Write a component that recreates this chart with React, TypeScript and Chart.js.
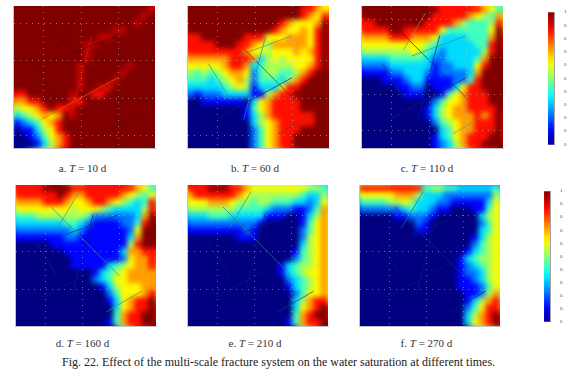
import React, { useEffect, useRef } from "react";
import { Chart, registerables } from "chart.js";

Chart.register(...registerables);

const panelA = [
  "9999999999999999999a","999999999999999999a9","99999999999999999a99","99999999999999aa9999",
  "999999999999aa999999","9999999999aa99999999","9999999999a999999999","9999999999a999999999",
  "999999999a999999a999","999999999a99999a9999","999999999a9999a99999","999999999a99a8999999",
  "88999999a99889999999","77889999889999999999","56678988a99999999999","34567679a99999999999",
  "12346789999999999999","01135689999999999999","00124678999999999999","00013578999999999999",
];
const panelB = [
  "99999999999999998876","99999999999999998768","99999999999998766679","99999999999987667689",
  "88999999888666777689","88889998876577777689","88888888766566676789","77777788873565666689",
  "66666788734555566789","54545677624554457899","44434567524443578999","33333456513336889999",
  "21222333311578899999","00111111036788889999","00000000146788889999","00000000135788888899",
  "00000000035678888899","00000000024678889999","00000000024678899999","00000000024678899999",
];
const panelC = [
  "99999999999888888764","99999999998888876547","88999999988887544458","88889988888644444469",
  "77778887776333344479","66666666654333334489","55555556543233333589","33334444432233334799",
  "22223333331223336899","11112233321222237999","00011123311112248999","00000112201113688999",
  "00000011100146788899","00000000002466788899","00000000013567788889","00000000013567778789",
  "00000000002456778889","00000000000346778889","00000000001346788899","00000000001235788999",
];
const panelD = [
  "88889999888888888764","88888898778888876546","77778887667887654348","66666666566654333358",
  "44455555554222222379","33333334432111122489","22222222321111112699","11111112211111113799",
  "00000111111111115899","00000001111111137788","00000000111111126778","00000000111113456778",
  "00000000000134567777","00000000000234667777","00000000000013566677","00000000000002466678",
  "00000000000001367889","00000000000000367889","00000000000000478899","00000000000001478899",
];
const panelE = [
  "88899988766666666554","78888887655555554335","66677765545544433236","55555554444322211247",
  "33344433333111001357","22222222221000001467","11111111210000002467","00000001110000002567",
  "00000000000000003567","00000000000000014567","00000000000000024567","00000000000001345567",
  "00000000000001345667","00000000000000234567","00000000000000134567","00000000000000024667",
  "00000000000000035788","00000000000000036789","00000000000000047899","00000000000000147889",
];
const panelF = [
  "88888888845544333334","66666777533322222225","44445565333221111136","22222234332110001146",
  "00000112221000000356","00000000210000000246","00000000110000000346","00000000000000001356",
  "00000000000000002456","00000000000000013456","00000000000000134556","00000000000000123456",
  "00000000000000122356","00000000000000112356","00000000000000111246","00000000000000011257",
  "00000000000000013578","00000000000000024688","00000000000000035789","00000000000000036789",
];
// saturation that each letter of a grid row stands for
const levelKeys = "0123456789a";
const levelValues = [0, 0.13, 0.24, 0.34, 0.44, 0.54, 0.63, 0.72, 0.86, 1, 0.93];

// fracture endpoints, as fractions of the panel (x, y from top)
const fractures = [
  [[0.453, 0.05], [0.3, 0.307]],
  [[0.255, 0.156], [0.74, 0.644]],
  [[0.355, 0.353], [0.74, 0.21]],
  [[0.554, 0.21], [0.4, 0.8]],
  [[0.15, 0.405], [0.3, 0.65]],
  [[0.208, 0.795], [0.74, 0.505]],
  [[0.647, 0.9], [0.897, 0.753]],
];
const fractureColorsA = ["#4a0808", "#4a0808", "#4a0808", "#c02000", "#4a0808", "#e85a10", "#4a0808"];
const fractureColorsB = ["#6a1a10", "#2a3a40", "#5a9070", "#1c86d8", "#2f8f90", "#0a1a90", "#6a3a20"];
const fractureColorsC = ["#6a9a50", "#10306a", "#2f8f90", "#0a1a8a", "#10308a", "#0a1a8a", "#7a9a40"];
const fractureColorsD = ["#3f9a80", "#3f8f70", "#0a2a80", "#0a1a7a", "#10208a", "#0a1a7a", "#2f8f90"];
const fractureColorsE = ["#2f9080", "#2f7f80", "#0a1a70", "#0a1a70", "#0a1a80", "#0a1a70", "#103a90"];
const fractureColorsF = ["#1070c0", "#0a3090", "#0a1a70", "#0a1a70", "#0a1a70", "#0a1a70", "#0a2080"];

const colorbarLevels = [0, 0.05, 0.1, 0.15, 0.2, 0.25, 0.3, 0.35, 0.4, 0.45, 0.5, 0.55, 0.6, 0.65, 0.7, 0.75, 0.8, 0.85, 0.9, 0.95, 1];
const colorbarTicks = [0, 0.1, 0.2, 0.3, 0.4, 0.5, 0.6, 0.7, 0.8, 0.9, 1];

const gridX = [0.215, 0.48, 0.74];
const gridYTop = [0.12, 0.385, 0.65, 0.91];
const gridYC = [0.098, 0.36, 0.62, 0.88];
const gridYBottom = [0.213, 0.475, 0.74];

const panels = [
  { grid: panelA, colors: fractureColorsA, left: 13, top: 6, size: 142, yLines: gridYTop, dots: "rgba(205,205,205,0.55)" },
  { grid: panelB, colors: fractureColorsB, left: 187, top: 6, size: 142, yLines: gridYTop, dots: "rgba(205,205,205,0.55)" },
  { grid: panelC, colors: fractureColorsC, left: 361, top: 6, size: 142, yLines: gridYC, dots: "rgba(205,205,205,0.55)" },
  { grid: panelD, colors: fractureColorsD, left: 15, top: 185, size: 141, yLines: gridYBottom, dots: "rgba(205,205,205,0.5)" },
  { grid: panelE, colors: fractureColorsE, left: 187, top: 185, size: 141, yLines: gridYBottom, dots: "rgba(205,205,205,0.5)" },
  { grid: panelF, colors: fractureColorsF, left: 359, top: 185, size: 141, yLines: gridYBottom, dots: "rgba(205,205,205,0.5)" },
];

const captions = [
  { label: "a.", rest: " = 10 d", cx: 82.5, cy: 168 },
  { label: "b.", rest: " = 60 d", cx: 255, cy: 168 },
  { label: "c.", rest: " = 110 d", cx: 427, cy: 168 },
  { label: "d.", rest: " = 160 d", cx: 82.5, cy: 343 },
  { label: "e.", rest: " = 210 d", cx: 255, cy: 343 },
  { label: "f.", rest: " = 270 d", cx: 426.5, cy: 343 },
];
const figureCaption = "Fig. 22. Effect of the multi-scale fracture system on the water saturation at different times.";

function jet(v: number) {
  const c = (x: number) => Math.round(255 * Math.max(0, Math.min(1, x)));
  return `rgb(${c(1.5 - Math.abs(4 * v - 3))},${c(1.5 - Math.abs(4 * v - 2))},${c(1.5 - Math.abs(4 * v - 1))})`;
}

const smoothHeat = (radius: number) => ({
  id: "smoothHeat",
  afterDatasetDraw(chart: any, args: any) {
    if (args.index !== 0) return;
    const { ctx, canvas, chartArea: a } = chart;
    const w = a.right - a.left;
    const h = a.bottom - a.top;
    const p = 12;
    const off = document.createElement("canvas");
    off.width = w + 2 * p;
    off.height = h + 2 * p;
    const o = off.getContext("2d")!;
    o.imageSmoothingEnabled = false;
    o.drawImage(canvas, a.left, a.top, w, h, 0, 0, w + 2 * p, h + 2 * p);
    o.drawImage(canvas, a.left, a.top, w, h, p, p, w, h);
    ctx.save();
    ctx.beginPath();
    ctx.rect(a.left, a.top, w, h);
    ctx.clip();
    ctx.filter = `blur(${radius}px)`;
    ctx.drawImage(off, a.left - p, a.top - p);
    ctx.restore();
  },
});

function HeatPanel({ panel }: { panel: (typeof panels)[number] }) {
  const ref = useRef<HTMLCanvasElement>(null);
  useEffect(() => {
    const rows = panel.grid.length;
    const cols = panel.grid[0].length;
    const points: { x: number; y: number }[] = [];
    const fills: string[] = [];
    panel.grid.forEach((row, r) => {
      for (let c = 0; c < cols; c++) {
        points.push({ x: (c + 0.5) / cols, y: (r + 0.5) / rows });
        fills.push(jet(levelValues[levelKeys.indexOf(row[c] ?? row[row.length - 1])]));
      }
    });
    const side = panel.size / cols + 1;
    const axis = (ticks: number[], reverse: boolean) => ({
      type: "linear" as const,
      min: 0,
      max: 1,
      reverse,
      afterBuildTicks: (s: any) => {
        s.ticks = ticks.map((value) => ({ value }));
      },
      ticks: { display: false, autoSkip: false },
      grid: { color: panel.dots, lineWidth: 1, drawTicks: false, z: 1 },
      border: { display: true, color: "#c2c2c6", width: 1, dash: [1, 5], z: 1 },
    });
    const chart = new Chart(ref.current!, {
      type: "scatter",
      data: {
        datasets: [
          {
            data: points,
            order: 10,
            clip: 0,
            pointStyle: "rect",
            pointRadius: side * Math.SQRT1_2,
            pointHoverRadius: side * Math.SQRT1_2,
            pointBorderWidth: 0,
            pointBackgroundColor: fills,
          },
          ...fractures.map((seg, i) => ({
            data: seg.map(([x, y]) => ({ x, y })),
            order: 1,
            showLine: true,
            borderColor: panel.colors[i] + "b0",
            borderWidth: 1,
            pointRadius: 0,
          })),
        ],
      } as any,
      options: {
        responsive: false,
        animation: false,
        devicePixelRatio: 1,
        layout: { padding: 1, autoPadding: false },
        plugins: { legend: { display: false }, tooltip: { enabled: false } },
        events: [],
        scales: { x: axis(gridX, false), y: axis(panel.yLines, true) },
      } as any,
      plugins: [smoothHeat(2.8)],
    });
    return () => chart.destroy();
  }, [panel]);
  return (
    <canvas
      ref={ref}
      width={panel.size + 2}
      height={panel.size + 2}
      style={{ position: "absolute", left: panel.left - 1, top: panel.top - 1, filter: "blur(0.45px)" }}
    />
  );
}

function ColorBar({ left, top, height, width }: { left: number; top: number; height: number; width: number }) {
  const ref = useRef<HTMLCanvasElement>(null);
  useEffect(() => {
    const side = height / (colorbarLevels.length - 1) + 1;
    const chart = new Chart(ref.current!, {
      type: "scatter",
      data: {
        datasets: [
          {
            data: colorbarLevels.map((y) => ({ x: 0, y })),
            clip: 0,
            pointStyle: "rect",
            pointRadius: Math.max(side, width + 2) * Math.SQRT1_2,
            pointHoverRadius: 0,
            pointBorderWidth: 0,
            pointBackgroundColor: colorbarLevels.map(jet),
          },
        ],
      } as any,
      options: {
        responsive: false,
        animation: false,
        devicePixelRatio: 1,
        layout: { padding: { top: 4, bottom: 4, left: 0, right: 0 }, autoPadding: false },
        plugins: { legend: { display: false }, tooltip: { enabled: false } },
        events: [],
        scales: {
          x: { type: "linear", min: -1, max: 1, display: false },
          y: {
            type: "linear",
            position: "right",
            min: 0,
            max: 1,
            afterBuildTicks: (s: any) => {
              s.ticks = colorbarTicks.map((value) => ({ value }));
            },
            afterFit: (s: any) => {
              s.width = 14;
            },
            grid: { display: false },
            border: { display: true, color: "#a8a0a4", width: 1 },
            ticks: {
              autoSkip: false,
              padding: 2,
              color: "#555",
              font: { size: 4, family: "DejaVu Sans" },
            },
          },
        },
      } as any,
      plugins: [smoothHeat(1.6)],
    });
    return () => chart.destroy();
  }, [height, width]);
  return (
    <canvas
      ref={ref}
      width={width + 14}
      height={height + 8}
      style={{ position: "absolute", left, top: top - 4, filter: "blur(0.35px)" }}
    />
  );
}

export default function App() {
  return (
    <div style={{ position: "absolute", left: 0, top: 0, width: 567, height: 373, background: "#fff", overflow: "hidden" }}>
      {panels.map((p, i) => (
        <HeatPanel key={i} panel={p} />
      ))}
      <ColorBar left={548} top={12} height={133} width={6} />
      <ColorBar left={544} top={191} height={131} width={6} />
      {captions.map((c, i) => (
        <div
          key={i}
          style={{
            position: "absolute",
            left: c.cx - 50,
            width: 100,
            top: c.cy - 7,
            lineHeight: "14px",
            textAlign: "center",
            whiteSpace: "pre",
            fontFamily: "Liberation Serif",
            fontSize: 11,
            color: "#333",
          }}
        >
          {c.label} <i>T</i>
          {c.rest}
        </div>
      ))}
      <div
        style={{
          position: "absolute",
          left: 62,
          top: 355,
          lineHeight: "14px",
          whiteSpace: "nowrap",
          fontFamily: "Liberation Serif",
          fontSize: 12,
          color: "#222",
        }}
      >
        {figureCaption}
      </div>
    </div>
  );
}
